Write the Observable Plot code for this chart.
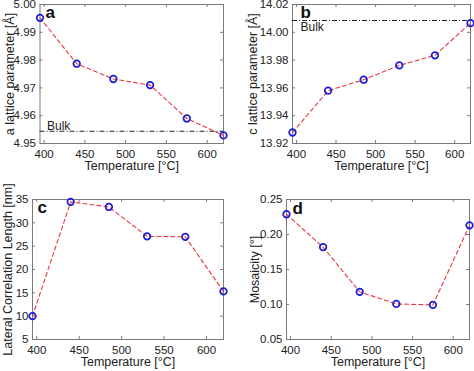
<!DOCTYPE html>
<html>
<head>
<meta charset="utf-8">
<script src="https://cdn.jsdelivr.net/npm/d3@7"></script>
<script src="https://cdn.jsdelivr.net/npm/@observablehq/plot@0.6"></script>
<style>
  html, body { margin: 0; padding: 0; background: white; }
  #wrap { position: relative; width: 474px; height: 371px; background: white; overflow: hidden; }
  .panel { position: absolute; }
</style>
</head>
<body>
<div id="wrap"></div>
<script>
// ---- data ----
const temperatures = [395, 440, 485, 530, 575, 620];
const aLattice = [4.9952, 4.9787, 4.9732, 4.9710, 4.9590, 4.9529];
const cLattice = [13.9279, 13.9580, 13.9659, 13.9762, 13.9834, 14.0066];
const correlationLength = [10.0, 34.5, 33.4, 27.1, 27.0, 15.3];
const mosaicity = [0.2289, 0.1819, 0.1181, 0.1008, 0.0994, 0.2131];
const bulkA = 4.9544;
const bulkC = 14.0085;
const xTicks = [400, 450, 500, 550, 600];
const aTicks = [4.95, 4.96, 4.97, 4.98, 4.99, 5.00];
const cTicks = [13.92, 13.94, 13.96, 13.98, 14.00, 14.02];
const lenTicks = [5, 10, 15, 20, 25, 30, 35];
const mosTicks = [0.05, 0.10, 0.15, 0.20, 0.25];
const xLabel = "Temperature [°C]";

const FONT = "'Liberation Sans', Arial, Helvetica, sans-serif";
const FRAME = "#7a7a7a";
const LINE = "#e8383f";
const MARK = "#1c1cd4";
const TICKFS = 11.5;
const LABELFS = 12.5;

function panel(opts) {
  const {left, top, width, height, mL, mR, mT, mB, values, yDomain, yTicks, yFormat,
         yLabel, yLabelOffset, letter, letterDx, letterDy, bulk, bulkAbove} = opts;
  const rows = temperatures.map((t, i) => ({t, v: values[i]}));
  const ph = height - mT - mB;
  const pw = width - mL - mR;
  const marks = [
    Plot.frame({stroke: FRAME, strokeWidth: 1}),
    Plot.tickX(xTicks, {x: d => d, stroke: FRAME, insetTop: ph - 3}),
    Plot.tickX(xTicks, {x: d => d, stroke: FRAME, insetBottom: ph - 3}),
    Plot.tickY(yTicks, {y: d => d, stroke: FRAME, insetRight: pw - 3}),
    Plot.tickY(yTicks, {y: d => d, stroke: FRAME, insetLeft: pw - 3}),
    Plot.axisX(xTicks, {tickSize: 0, tickPadding: 6, fontSize: TICKFS, fill: "#222", label: null}),
    Plot.axisY(yTicks, {tickSize: 0, tickPadding: 4, fontSize: TICKFS, fill: "#222", tickFormat: yFormat, label: null}),
    Plot.axisY(yTicks, {tickSize: 0, text: null, label: yLabel, labelAnchor: "center", labelArrow: "none",
                        labelOffset: yLabelOffset, fontSize: LABELFS, fill: "#222"}),
    Plot.text([xLabel], {frameAnchor: "bottom", dy: 26, fontSize: LABELFS, fill: "#222"}),
    Plot.text([letter], {frameAnchor: "top-left", dx: letterDx, dy: letterDy, lineAnchor: "bottom",
                         textAnchor: "start", fontWeight: "bold", fontSize: 17, fill: "#111"})
  ];
  if (bulk !== undefined) {
    marks.push(Plot.ruleY([bulk], {y: d => d, stroke: "#222", strokeWidth: 1, strokeDasharray: "5,2,1,2"}));
    marks.push(Plot.text(["Bulk"], {x: temperatures[0], y: bulk, dx: bulkAbove ? 7 : 8, dy: bulkAbove ? -1 : 2,
      lineAnchor: bulkAbove ? "bottom" : "top", textAnchor: "start", fontSize: 12, fill: "#222"}));
  }
  marks.push(Plot.line(rows, {x: "t", y: "v", stroke: LINE, strokeWidth: 1.1, strokeDasharray: "4,3"}));
  marks.push(Plot.dot(rows, {x: "t", y: "v", r: 3.3, stroke: MARK, strokeWidth: 1.7, fill: "none"}));

  const svg = Plot.plot({
    width, height,
    marginLeft: mL, marginRight: mR, marginTop: mT, marginBottom: mB,
    x: {domain: [395, 620]},
    y: {domain: yDomain},
    style: {fontFamily: FONT, fontSize: "12px", background: "white", overflow: "visible", color: "#222"},
    marks
  });
  const div = document.createElement("div");
  div.className = "panel";
  div.style.left = left + "px";
  div.style.top = top + "px";
  div.appendChild(svg);
  document.getElementById("wrap").appendChild(div);
}

const f2 = d3.format(".2f");

panel({left: 0, top: 0, width: 237, height: 185, mL: 39.5, mR: 14, mT: 4, mB: 42,
  values: aLattice, yDomain: [4.95, 5.00], yTicks: aTicks, yFormat: f2,
  yLabel: "a lattice parameter [Å]", yLabelOffset: 35, letter: "a", letterDx: 5.5, letterDy: 13,
  bulk: bulkA, bulkAbove: true});

panel({left: 237, top: 0, width: 237, height: 185, mL: 55, mR: 4, mT: 4, mB: 42,
  values: cLattice, yDomain: [13.92, 14.02], yTicks: cTicks, yFormat: f2,
  yLabel: "c lattice parameter [Å]", yLabelOffset: 44.5, letter: "b", letterDx: 8, letterDy: 13,
  bulk: bulkC, bulkAbove: false});

panel({left: 0, top: 185, width: 237, height: 186, mL: 32, mR: 14, mT: 14, mB: 32,
  values: correlationLength, yDomain: [5, 35], yTicks: lenTicks, yFormat: d3.format("d"),
  yLabel: "Lateral Correlation Length [nm]", yLabelOffset: 29.5, letter: "c", letterDx: 5, letterDy: 13});

panel({left: 237, top: 185, width: 237, height: 186, mL: 49, mR: 5, mT: 14, mB: 32,
  values: mosaicity, yDomain: [0.05, 0.25], yTicks: mosTicks, yFormat: f2,
  yLabel: "Mosaicity [°]", yLabelOffset: 36.5, letter: "d", letterDx: 6, letterDy: 14});
</script>
</body>
</html>
